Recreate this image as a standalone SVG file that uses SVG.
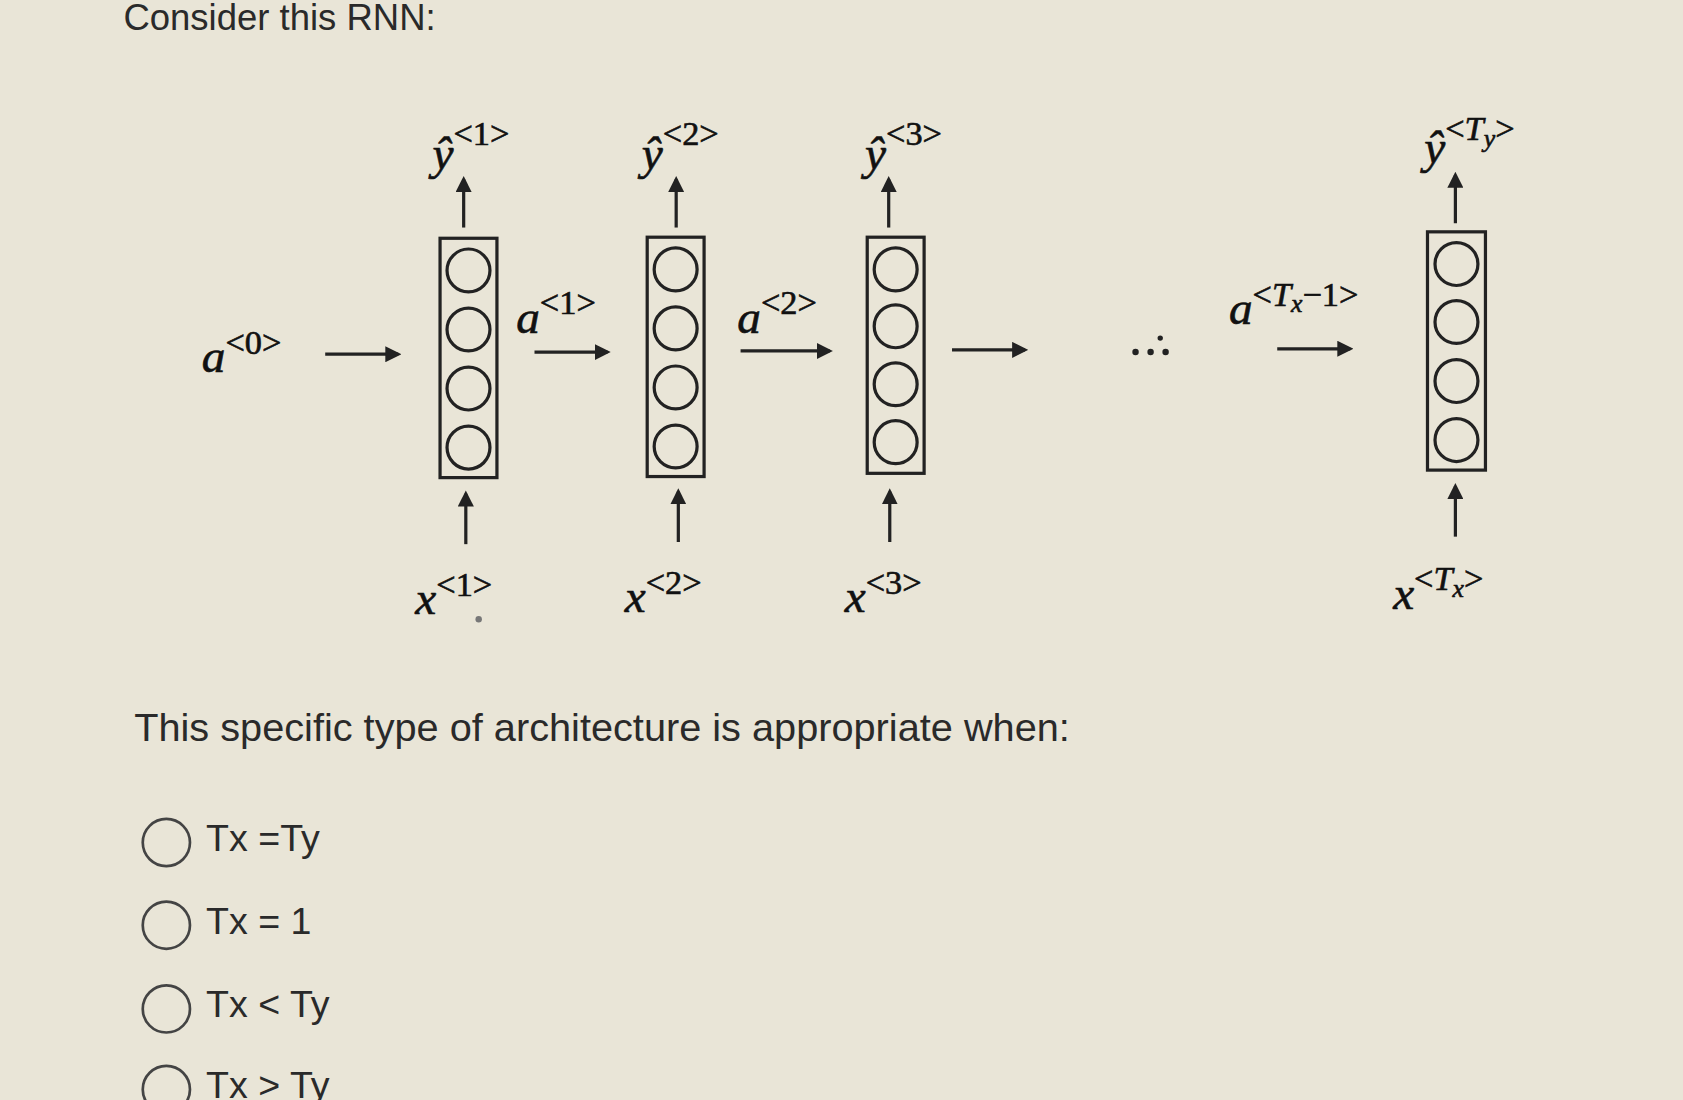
<svg xmlns="http://www.w3.org/2000/svg" width="1683" height="1100" viewBox="0 0 1683 1100">
<style>
.t{font-family:"Liberation Sans",Arial,sans-serif;fill:#2a2a2a}
.m{font-family:"Liberation Serif","Times New Roman",serif;fill:#111;stroke:#111;stroke-width:0.6}
.i{font-style:italic}
.cell rect,.cell circle{fill:none;stroke:#222;stroke-width:3}
.c line{stroke:#222;stroke-width:3;marker-end:url(#ah)}
.r{fill:none;stroke:#444;stroke-width:2.5}
</style>
<defs><marker id="ah" viewBox="0 0 10 10" refX="8" refY="5" markerWidth="5" markerHeight="5" orient="auto"><path d="M0,0L10,5L0,10z" fill="#222"/></marker></defs>
<rect width="1683" height="1100" fill="#e9e5d7"/>
<g transform="scale(1.0733)">
<text class="t" x="115" y="28" font-size="34">Consider this RNN:</text>
<g id="cell1" class="cell"><rect x="410" y="222" width="53" height="223"/><circle cx="436.5" cy="252" r="20"/><circle cx="436.5" cy="307" r="20"/><circle cx="436.5" cy="362" r="20"/><circle cx="436.5" cy="417" r="20"/></g>
<g id="cell2" class="cell"><rect x="603" y="221" width="53" height="223"/><circle cx="629.5" cy="251" r="20"/><circle cx="629.5" cy="306" r="20"/><circle cx="629.5" cy="361" r="20"/><circle cx="629.5" cy="416" r="20"/></g>
<g id="cell3" class="cell"><rect x="808" y="221" width="53" height="220"/><circle cx="834.5" cy="251" r="20"/><circle cx="834.5" cy="304" r="20"/><circle cx="834.5" cy="358" r="20"/><circle cx="834.5" cy="412" r="20"/></g>
<g id="cell4" class="cell"><rect x="1330" y="216" width="54" height="222"/><circle cx="1357" cy="246" r="20"/><circle cx="1357" cy="300" r="20"/><circle cx="1357" cy="355" r="20"/><circle cx="1357" cy="410" r="20"/></g>
<g id="connectors" class="c">
<line x1="432" y1="212" x2="432" y2="167"/><line x1="630" y1="212" x2="630" y2="167"/><line x1="828" y1="212" x2="828" y2="167"/><line x1="1356" y1="208" x2="1356" y2="163"/>
<line x1="434" y1="507" x2="434" y2="460"/><line x1="632" y1="505" x2="632" y2="458"/><line x1="829" y1="505" x2="829" y2="458"/><line x1="1356" y1="500" x2="1356" y2="453"/>
<line x1="303" y1="330" x2="371" y2="330"/><line x1="498" y1="328" x2="566" y2="328"/><line x1="690" y1="327" x2="773" y2="327"/><line x1="887" y1="326" x2="955" y2="326"/><line x1="1190" y1="325" x2="1258" y2="325"/>
</g>
<g fill="#222"><circle cx="1058" cy="328" r="3"/><circle cx="1072" cy="328" r="3"/><circle cx="1086" cy="328" r="3"/><circle cx="1081" cy="315" r="2.5"/></g>
<g class="m" font-size="44">
<text x="403" y="157"><tspan class="i">ŷ</tspan><tspan font-size="32" dy="-22">&lt;1&gt;</tspan></text>
<text x="598" y="157"><tspan class="i">ŷ</tspan><tspan font-size="32" dy="-22">&lt;2&gt;</tspan></text>
<text x="806" y="157"><tspan class="i">ŷ</tspan><tspan font-size="32" dy="-22">&lt;3&gt;</tspan></text>
<text x="1327" y="152"><tspan class="i">ŷ</tspan><tspan font-size="32" dy="-22">&lt;<tspan class="i">T</tspan><tspan class="i" font-size="24" dy="7">y</tspan><tspan dy="-7">&gt;</tspan></tspan></text>
<text x="387" y="572"><tspan class="i">x</tspan><tspan font-size="32" dy="-17">&lt;1&gt;</tspan></text>
<text x="582" y="570"><tspan class="i">x</tspan><tspan font-size="32" dy="-17">&lt;2&gt;</tspan></text>
<text x="787" y="570"><tspan class="i">x</tspan><tspan font-size="32" dy="-17">&lt;3&gt;</tspan></text>
<text x="1298" y="567"><tspan class="i">x</tspan><tspan font-size="32" dy="-17">&lt;<tspan class="i">T</tspan><tspan class="i" font-size="24" dy="6">x</tspan><tspan dy="-6">&gt;</tspan></tspan></text>
<text x="188" y="347"><tspan class="i">a</tspan><tspan font-size="32" dy="-17">&lt;0&gt;</tspan></text>
<text x="481" y="310"><tspan class="i">a</tspan><tspan font-size="32" dy="-17">&lt;1&gt;</tspan></text>
<text x="687" y="310"><tspan class="i">a</tspan><tspan font-size="32" dy="-17">&lt;2&gt;</tspan></text>
<text x="1145" y="302"><tspan class="i">a</tspan><tspan font-size="32" dy="-17">&lt;<tspan class="i">T</tspan><tspan class="i" font-size="24" dy="6">x</tspan><tspan dy="-6">−1&gt;</tspan></tspan></text>
</g>
<circle cx="446" cy="577" r="3" fill="#777"/>
<text class="t" x="125" y="690" font-size="37">This specific type of architecture is appropriate when:</text>
<circle class="r" cx="155" cy="785" r="22"/><text class="t" x="192" y="793" font-size="35">Tx =Ty</text>
<circle class="r" cx="155" cy="862" r="22"/><text class="t" x="192" y="870" font-size="35">Tx = 1</text>
<circle class="r" cx="155" cy="940" r="22"/><text class="t" x="192" y="948" font-size="35">Tx &lt; Ty</text>
<circle class="r" cx="155" cy="1015" r="22"/><text class="t" x="192" y="1023" font-size="35">Tx &gt; Ty</text>
</g>
</svg>
